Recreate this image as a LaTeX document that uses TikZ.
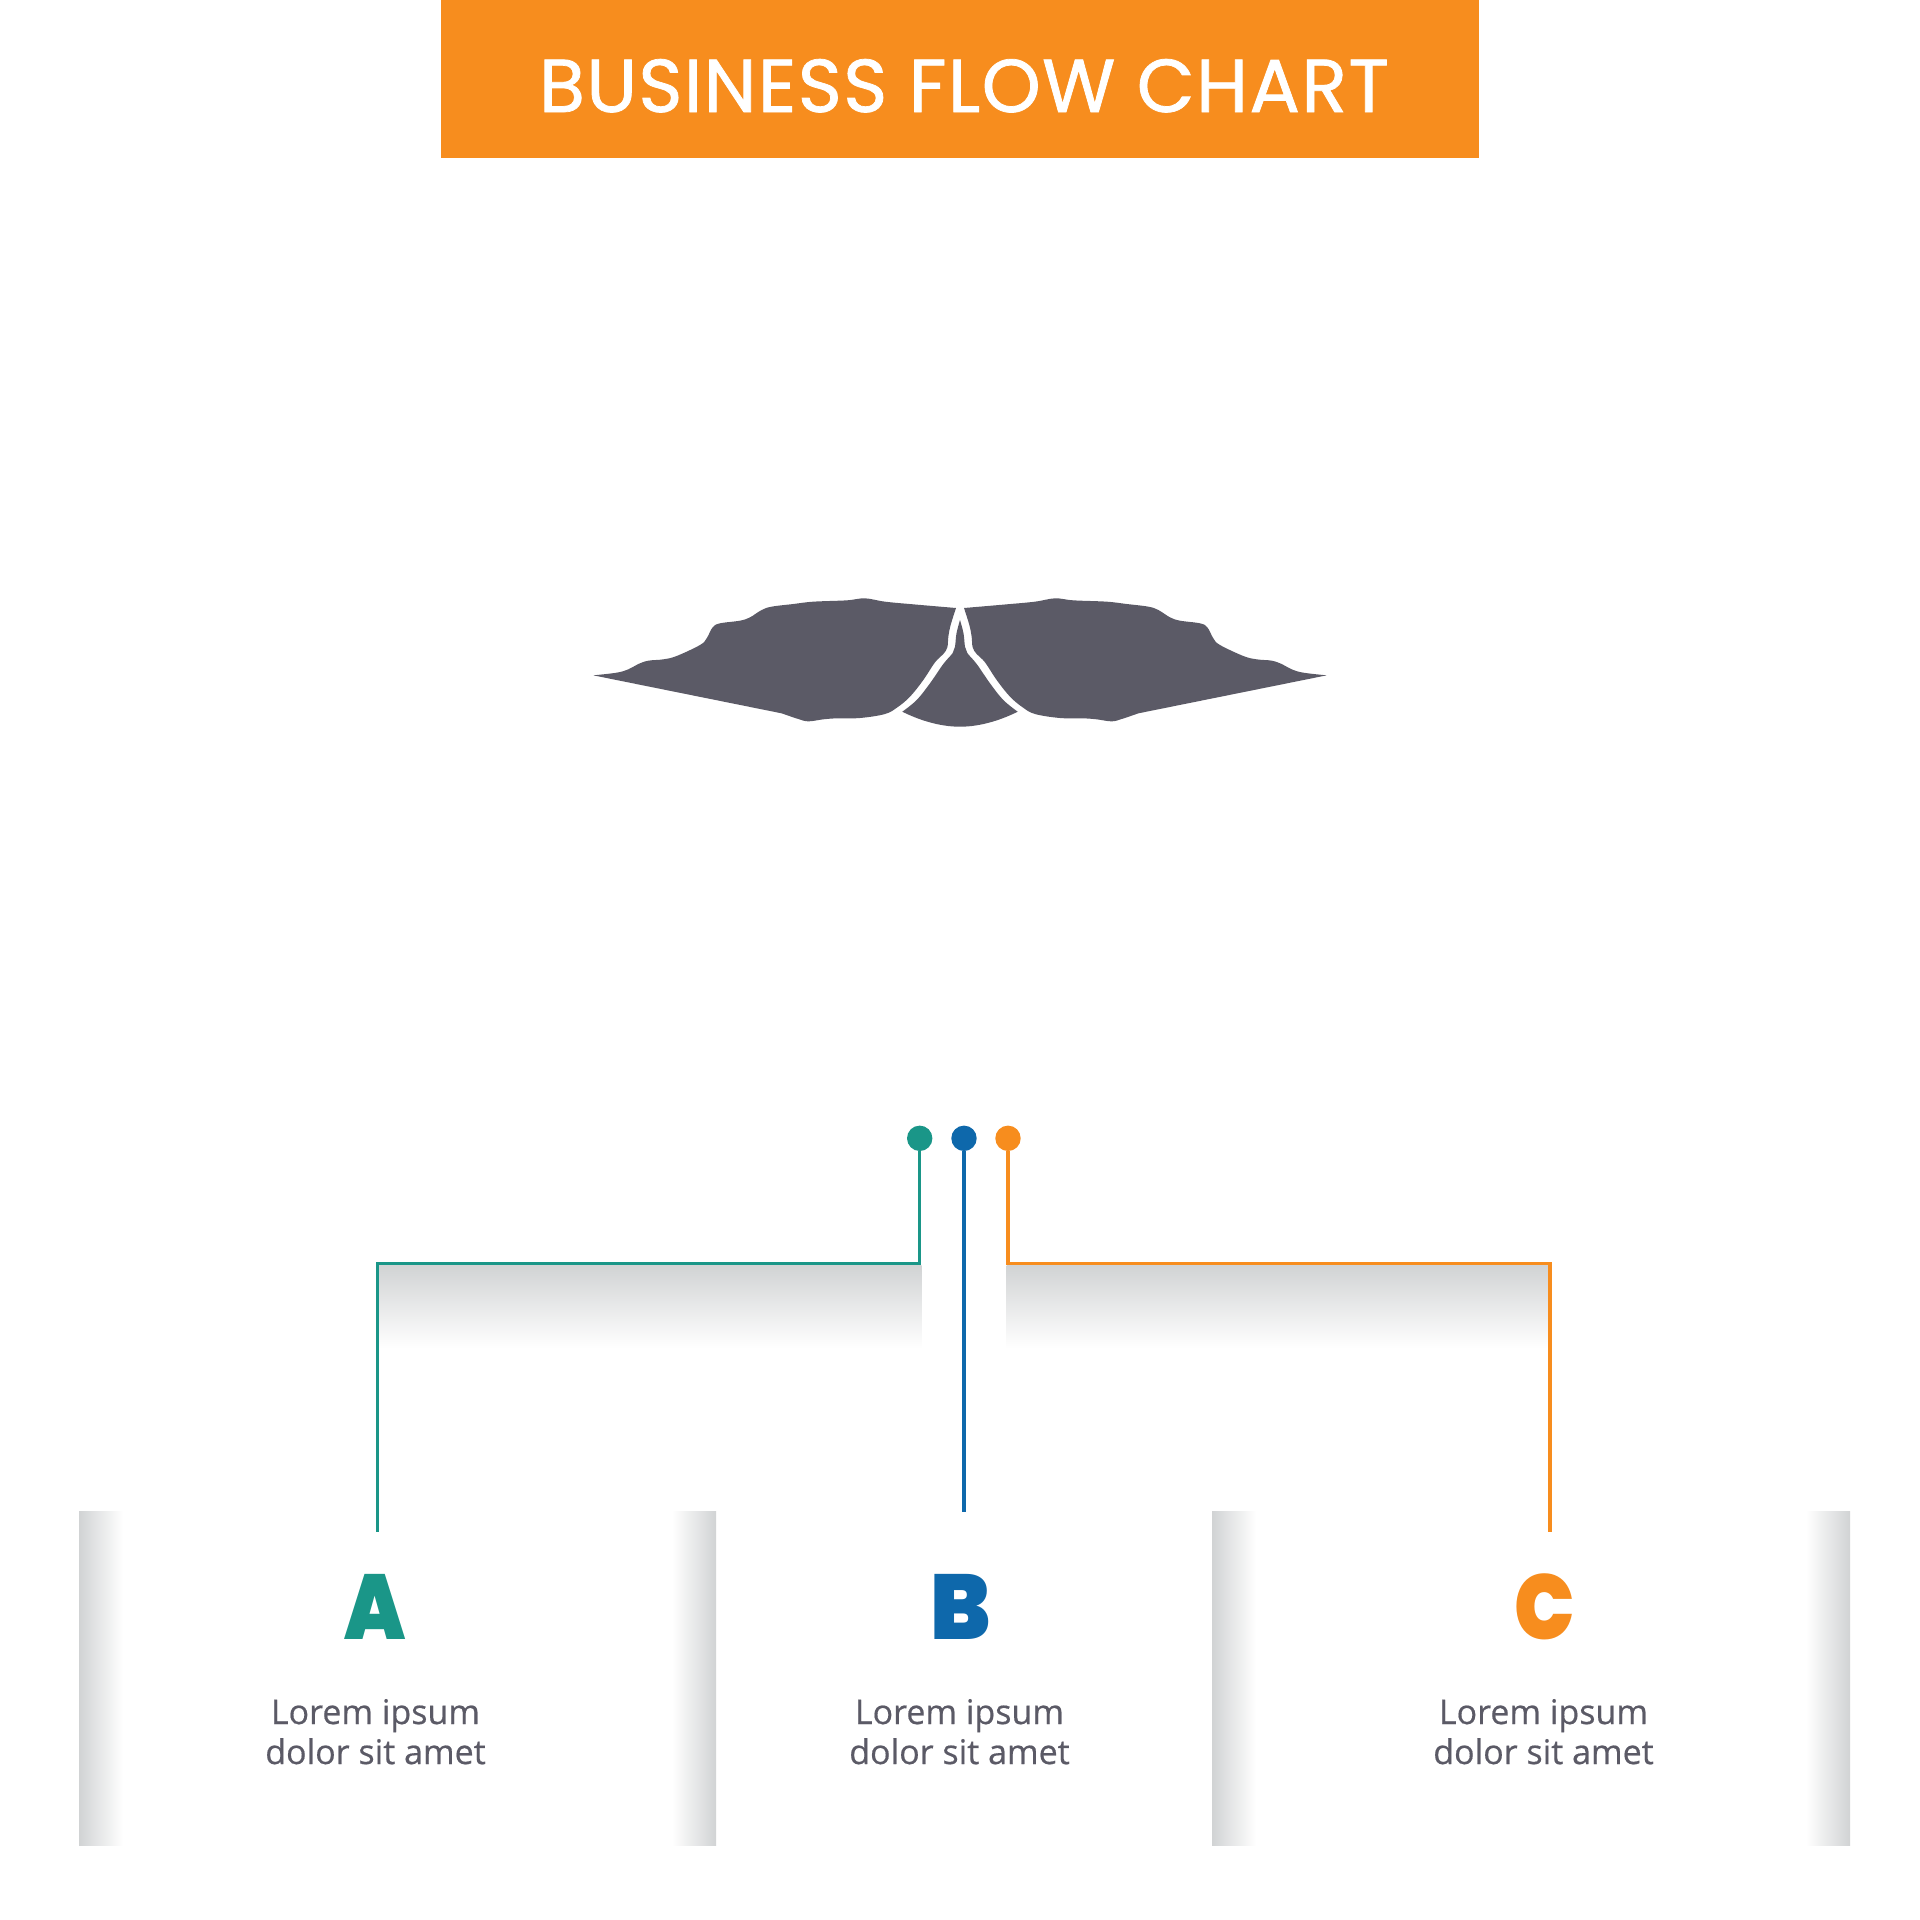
\documentclass[tikz,border=0pt]{standalone}
\usepackage{fontspec}
\setmainfont[FakeBold=0.5]{Open Sans}
\newfontfamily\titlefont[LetterSpace=1.9,FakeBold=1]{Poppins}
\newfontfamily\letterfont{Poppins Black}
\definecolor{orangeC}{HTML}{F78D1E}
\definecolor{tealC}{HTML}{1A9688}
\definecolor{blueC}{HTML}{0E68AB}
\definecolor{darkC}{HTML}{5B5A66}
\definecolor{shadeC}{HTML}{D1D3D4}
\tikzset{
  x=1pt,y=-1pt,
  dot/.style={circle,inner sep=0pt,minimum size=25.4pt,fill=#1},
  wire/.style={line width=3.2pt,draw=#1,miter limit=10},
  panelshade/.style={draw=none},
  bigletter/.style={text=#1,font=\letterfont\fontsize{92}{92}\selectfont,inner sep=0pt,anchor=base},
  loremtext/.style={text=darkC,font=\fontsize{34}{40}\selectfont,align=center,inner sep=0pt,anchor=base},
  inkfill/.style={fill=darkC,draw=none}
}
\newcommand{\wingpath}{
  plot[smooth,tension=0.6] coordinates {(100,316)(170,308)(205,298)(235,282)(265,272)(310,268)(350,258)(420,225)(440,205)(458,172)(480,160)(540,152)(570,142)(605,120)(635,110)(700,102)(760,95)(860,91)(915,85)(975,95)(1060,103)(1188,114)}
  -- plot[smooth,tension=0.6] coordinates {(1188,114)(1172,165)(1165,200)(1162,232)(1150,252)(1125,277)(1090,330)(1050,380)(1012,412)(975,432)(900,444)(830,445)(790,448)(745,454)(715,447)(665,430)}
  -- cycle}
\begin{document}
\begin{tikzpicture}
\useasboundingbox (0,0) rectangle (1920,1920);
\fill[white] (0,0) rectangle (1920,1920);
% title
\fill[orangeC] (441,0) rectangle (1478.5,157.5);
\node[text=white,font=\titlefont\fontsize{75}{75}\selectfont,inner sep=0pt,anchor=base] (title) at (964,112) {BUSINESS FLOW CHART};
% moustache
\begin{scope}[xshift=560pt,yshift=-570pt,x=0.33333pt,y=-0.33333pt]
\fill[inkfill] \wingpath;
\end{scope}
\begin{scope}[xshift=1360pt,yshift=-570pt,x=-0.33333pt,y=-0.33333pt]
\fill[inkfill] \wingpath;
\end{scope}
\fill[inkfill] plot[smooth,tension=0.6] coordinates {(960,620)(956.5,633.3)(955,646.7)(952.7,653)(943.3,664)(930,683.3)(916.7,700)(902.3,711.7)}
  .. controls (917,719) and (938,726.7) .. (960,726.7)
  .. controls (982,726.7) and (1003,719) .. (1017.7,711.7)
  -- plot[smooth,tension=0.6] coordinates {(1017.7,711.7)(1003.3,700)(990,683.3)(976.7,664)(967.3,653)(965,646.7)(963.5,633.3)(960,620)} -- cycle;
% gradients
\shade[panelshade,top color=shadeC,bottom color=white] (379,1265.2) rectangle (921.5,1348);
\shade[panelshade,top color=shadeC,bottom color=white] (1006.5,1265.2) rectangle (1549,1348);
\foreach \a/\b in {79/123,1212/1256}{\shade[panelshade,left color=shadeC,right color=white] (\a,1511.3) rectangle (\b,1845.7);}
\foreach \a/\b in {672/716,1806/1850}{\shade[panelshade,left color=white,right color=shadeC] (\a,1511.3) rectangle (\b,1845.7);}
% dots
\node[dot=tealC] (dotA) at (919.7,1138.3) {};
\node[dot=blueC] (dotB) at (964,1138.3) {};
\node[dot=orangeC] (dotC) at (1008,1138.3) {};
\coordinate (a1) at (919.7,1263.7);
\coordinate (a2) at (377.8,1263.7);
\coordinate (aEnd) at (377.8,1531.7);
\coordinate (bEnd) at (964,1511.7);
\coordinate (c1) at (1008,1263.7);
\coordinate (c2) at (1550,1263.7);
\coordinate (cEnd) at (1550,1531.7);
\draw[wire=tealC] (dotA.south) -- (a1) -- (a2) -- (aEnd);
\draw[wire=blueC] (dotB.south) -- (bEnd);
\draw[wire=orangeC] (dotC.south) -- (c1) -- (c2) -- (cEnd);
% letters
\node[bigletter=tealC] (letA) at (375.5,1639.3) {\scalebox{0.86}[1]{A}};
\node[bigletter=blueC] (letB) at (961,1639.3) {\scalebox{0.96}[1]{B}};
\node[bigletter=orangeC] (letC) at (1545,1639.3) {\scalebox{0.87}[1]{C}};
% text
\node[loremtext] (txtA) at (375.5,1764) {Lorem ipsum\\dolor sit amet};
\node[loremtext] (txtB) at (959.5,1764) {Lorem ipsum\\dolor sit amet};
\node[loremtext] (txtC) at (1543.5,1764) {Lorem ipsum\\dolor sit amet};
\end{tikzpicture}
\end{document}
